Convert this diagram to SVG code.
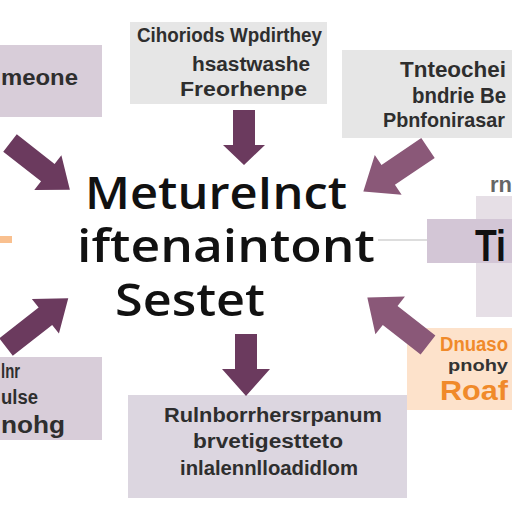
<svg xmlns="http://www.w3.org/2000/svg" width="512" height="512" viewBox="0 0 512 512">
<style>
.bt{font-family:"Liberation Sans","Noto Sans",sans-serif;font-weight:bold;fill:#2e2e2e}
.ct{font-family:"Open Sans","Noto Sans",sans-serif;font-weight:600;fill:#111;font-size:46px}
.ar1{fill:#6b3a5e}
.ar2{fill:#8a5878}
</style>
<rect width="512" height="512" fill="#ffffff"/>
<g id="connectors">
<line x1="378" y1="240" x2="427" y2="240" stroke="#dddddd" stroke-width="2"/>
<rect x="0" y="236" width="12" height="7" fill="#f9c08f"/>
</g>
<g id="box-topleft">
<rect x="-2" y="45" width="104" height="72" fill="#d8cdd9"/>
<text class="bt" x="1" y="85" font-size="22" textLength="77" lengthAdjust="spacingAndGlyphs">meone</text>
</g>
<g id="box-topcenter">
<rect x="130" y="22" width="197" height="82" fill="#e6e6e6"/>
<text class="bt" x="137" y="42" font-size="20" textLength="185" lengthAdjust="spacingAndGlyphs">Cihoriods Wpdirthey</text>
<text class="bt" x="192" y="71" font-size="20" textLength="118" lengthAdjust="spacingAndGlyphs">hsastwashe</text>
<text class="bt" x="180" y="96" font-size="20" textLength="127" lengthAdjust="spacingAndGlyphs">Freorhenpe</text>
</g>
<g id="box-topright">
<rect x="342" y="50" width="172" height="88" fill="#e6e6e6"/>
<text class="bt" x="400" y="77" font-size="22" textLength="106" lengthAdjust="spacingAndGlyphs">Tnteochei</text>
<text class="bt" x="412" y="103" font-size="22" textLength="94" lengthAdjust="spacingAndGlyphs">bndrie Be</text>
<text class="bt" x="383" y="127" font-size="21" textLength="122" lengthAdjust="spacingAndGlyphs">Pbnfonirasar</text>
</g>
<g id="box-right">
<rect x="476" y="196" width="38" height="121" fill="#e6dfe6"/>
<rect x="427" y="219" width="87" height="44" fill="#d3c6d6"/>
<text x="490" y="192" font-family="Liberation Sans, sans-serif" font-weight="bold" font-size="22" fill="#666">rn</text>
<text x="475" y="261" font-family="Liberation Sans, sans-serif" font-weight="bold" font-size="44" fill="#111" textLength="31" lengthAdjust="spacingAndGlyphs">Ti</text>
</g>
<g id="box-orange">
<rect x="407" y="328" width="107" height="82" fill="#fde2cb"/>
<text x="440" y="351" font-family="Liberation Sans, sans-serif" font-weight="bold" font-size="20" fill="#f08a2a" textLength="68" lengthAdjust="spacingAndGlyphs">Dnuaso</text>
<text x="448" y="371" font-family="Liberation Sans, sans-serif" font-weight="bold" font-size="17" fill="#333" textLength="60" lengthAdjust="spacingAndGlyphs">pnohy</text>
<text x="440" y="400" font-family="Liberation Sans, sans-serif" font-weight="bold" font-size="28" fill="#f08a2a" textLength="68" lengthAdjust="spacingAndGlyphs">Roaf</text>
</g>
<g id="box-bottomleft">
<rect x="-2" y="357" width="104" height="83" fill="#d8cdd9"/>
<text class="bt" x="1" y="378" font-size="20" textLength="19" lengthAdjust="spacingAndGlyphs">lnr</text>
<text class="bt" x="1" y="404" font-size="20" textLength="37" lengthAdjust="spacingAndGlyphs">ulse</text>
<text class="bt" x="1" y="433" font-size="24" textLength="64" lengthAdjust="spacingAndGlyphs">nohg</text>
</g>
<g id="box-bottomcenter">
<rect x="128" y="395" width="279" height="103" fill="#dcd6e0"/>
<text class="bt" x="164" y="422" font-size="20" textLength="218" lengthAdjust="spacingAndGlyphs">Rulnborrhersrpanum</text>
<text class="bt" x="193" y="448" font-size="20" textLength="150" lengthAdjust="spacingAndGlyphs">brvetigestteto</text>
<text class="bt" x="180" y="475" font-size="20" textLength="178" lengthAdjust="spacingAndGlyphs">inlalennlloadidlom</text>
</g>
<g id="arrows">
<polygon class="ar1" points="0,-11 48,-11 48,-22 76,0 48,22 48,11 0,11" transform="translate(10,143) rotate(38)"/>
<polygon class="ar1" points="0,-11 35,-11 35,-21 55,0 35,21 35,11 0,11" transform="translate(244,110) rotate(90)"/>
<polygon class="ar2" points="0,-12 48,-12 48,-24 78,0 48,24 48,12 0,12" transform="translate(428,148) rotate(146)"/>
<polygon class="ar1" points="0,-11 50,-11 50,-22 79,0 50,22 50,11 0,11" transform="translate(6,347) rotate(-38)"/>
<polygon class="ar1" points="0,-11 35,-11 35,-24 62,0 35,24 35,11 0,11" transform="translate(246,334) rotate(90)"/>
<polygon class="ar2" points="0,-12 48,-12 48,-24 77,0 48,24 48,12 0,12" transform="translate(428,345) rotate(-142)"/>
</g>
<g id="center">
<text class="ct" x="85" y="209" textLength="262" lengthAdjust="spacingAndGlyphs">MetureInct</text>
<text class="ct" x="77" y="262" textLength="298" lengthAdjust="spacingAndGlyphs">iftenaintont</text>
<text class="ct" x="115" y="316" textLength="150" lengthAdjust="spacingAndGlyphs">Sestet</text>
</g>
</svg>
